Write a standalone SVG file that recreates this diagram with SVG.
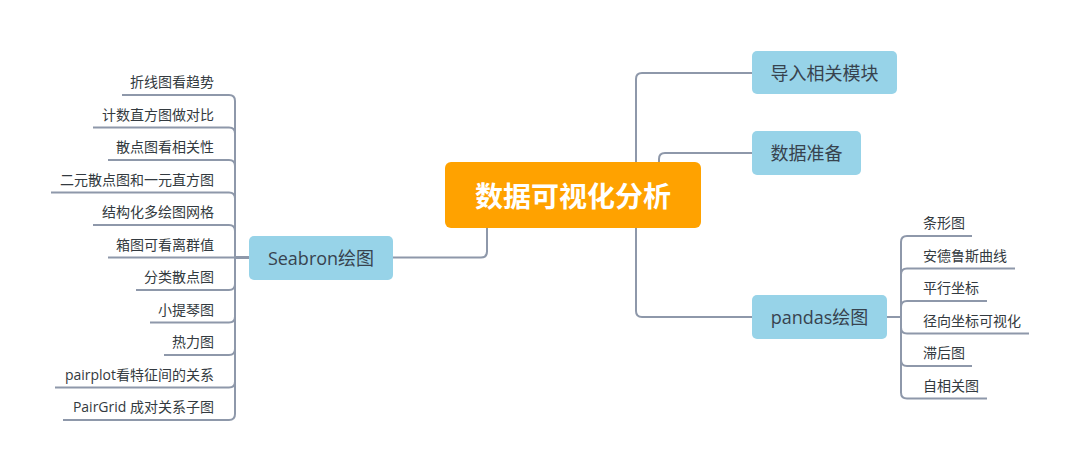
<svg xmlns="http://www.w3.org/2000/svg" width="1080" height="472" viewBox="0 0 1080 472">
<style>
.ln{fill:none;stroke:#8e98aa;stroke-width:2}
.node{fill:#97d3e8}
.nt{font-family:"Open Sans","Noto Sans CJK SC",sans-serif;font-size:18px;fill:#37434f;text-anchor:middle;dominant-baseline:central}
.lt{font-family:"Open Sans","Noto Sans CJK SC",sans-serif;font-size:14px;fill:#333a40}
.l{text-anchor:end}
</style>
<rect width="1080" height="472" fill="#ffffff"/>
<g id="connectors">
<path class="ln" d="M636,195 V79 Q636,73 642,73 H752"/>
<path class="ln" d="M636,195 V311 Q636,317 642,317 H752"/>
<path class="ln" d="M659,195 V159 Q659,153 665,153 H752"/>
<path class="ln" d="M487,195 V251.5 Q487,257.5 481,257.5 H393"/>
<path class="ln" d="M249,257.5 H235 V101 Q235,95 229,95 H122"/>
<path class="ln" d="M249,257.5 H235 V133.5 Q235,127.5 229,127.5 H93"/>
<path class="ln" d="M249,257.5 H235 V166 Q235,160 229,160 H108"/>
<path class="ln" d="M249,257.5 H235 V198.5 Q235,192.5 229,192.5 H51"/>
<path class="ln" d="M249,257.5 H235 V231 Q235,225 229,225 H93"/>
<path class="ln" d="M249,257.5 H108"/>
<path class="ln" d="M249,257.5 H235 V284 Q235,290 229,290 H136"/>
<path class="ln" d="M249,257.5 H235 V316.5 Q235,322.5 229,322.5 H150"/>
<path class="ln" d="M249,257.5 H235 V349 Q235,355 229,355 H164"/>
<path class="ln" d="M249,257.5 H235 V381.5 Q235,387.5 229,387.5 H55"/>
<path class="ln" d="M249,257.5 H235 V414 Q235,420 229,420 H63"/>
<path class="ln" d="M887,317 H901 V242 Q901,236 907,236 H972"/>
<path class="ln" d="M887,317 H901 V274.5 Q901,268.5 907,268.5 H1015"/>
<path class="ln" d="M887,317 H901 V307 Q901,301 907,301 H987"/>
<path class="ln" d="M887,317 H901 V327.5 Q901,333.5 907,333.5 H1029"/>
<path class="ln" d="M887,317 H901 V360 Q901,366 907,366 H972"/>
<path class="ln" d="M887,317 H901 V392.5 Q901,398.5 907,398.5 H987"/>
</g>
<g id="root">
<rect x="445" y="162" width="256" height="66" rx="6" fill="#ffa200"/>
<text x="573" y="195" style="font-family:'Noto Sans CJK SC',sans-serif;font-size:28px;font-weight:bold;fill:#ffffff;text-anchor:middle;dominant-baseline:central">数据可视化分析</text>
</g>
<g id="n-import"><rect class="node" x="752" y="51" width="145" height="43" rx="5"/><text class="nt" x="824.5" y="72.5">导入相关模块</text></g>
<g id="n-data"><rect class="node" x="752" y="131" width="109" height="44" rx="5"/><text class="nt" x="806.5" y="153">数据准备</text></g>
<g id="n-pandas"><rect class="node" x="752" y="295" width="135" height="44" rx="5"/><text class="nt" x="819.5" y="317">pandas绘图</text></g>
<g id="n-seaborn"><rect class="node" x="249" y="236" width="144" height="44" rx="5"/><text class="nt" x="321" y="258">Seabron绘图</text></g>
<g id="seaborn-leaves">
<text class="lt l" x="214" y="87">折线图看趋势</text>
<text class="lt l" x="214" y="119.5">计数直方图做对比</text>
<text class="lt l" x="214" y="152">散点图看相关性</text>
<text class="lt l" x="214" y="184.5">二元散点图和一元直方图</text>
<text class="lt l" x="214" y="217">结构化多绘图网格</text>
<text class="lt l" x="214" y="249.5">箱图可看离群值</text>
<text class="lt l" x="214" y="282">分类散点图</text>
<text class="lt l" x="214" y="314.5">小提琴图</text>
<text class="lt l" x="214" y="347">热力图</text>
<text class="lt l" x="214" y="379.5">pairplot看特征间的关系</text>
<text class="lt l" x="214" y="412">PairGrid 成对关系子图</text>
</g>
<g id="pandas-leaves">
<text class="lt" x="923" y="228">条形图</text>
<text class="lt" x="923" y="260.5">安德鲁斯曲线</text>
<text class="lt" x="923" y="293">平行坐标</text>
<text class="lt" x="923" y="325.5">径向坐标可视化</text>
<text class="lt" x="923" y="358">滞后图</text>
<text class="lt" x="923" y="390.5">自相关图</text>
</g>
</svg>
